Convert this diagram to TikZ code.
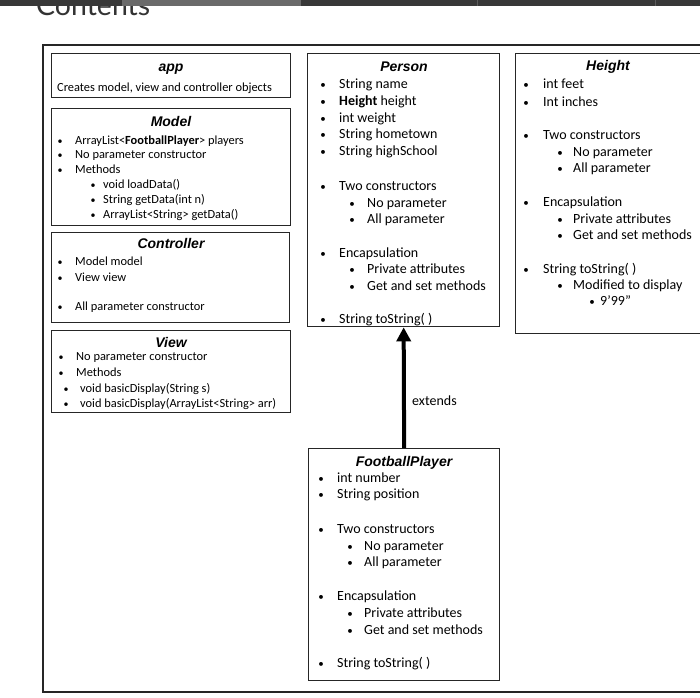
\documentclass[tikz,border=0pt]{standalone}
\usepackage{fontspec}
\setmainfont{Carlito}
\newfontfamily\ttlfont{Liberation Sans}
\newfontfamily\hdfont{Lato}
\usetikzlibrary{arrows.meta}
\definecolor{bardark}{HTML}{383838}
\definecolor{barlight}{HTML}{6A6A6A}
\definecolor{bardiv}{HTML}{5C5C5C}
\definecolor{linec}{HTML}{262626}
\newcommand\li[5]{\node[bul] (#1b) at (#2,#4) {\textbullet}; \node[itm] (#1) at (#3,#4) {#5};}
\begin{document}
\begin{tikzpicture}[x=1pt,y=-1pt,
  box/.style={draw=linec, line width=1.3pt, inner sep=0pt, anchor=north west},
  ttl/.style={font=\ttlfont\bfseries\itshape\fontsize{14}{16}\selectfont, anchor=mid, inner sep=0pt, yshift=-3pt},
  bul/.style={anchor=mid, inner sep=0pt, yshift=-3pt},
  itm/.style={anchor=mid west, inner sep=0pt, yshift=-3pt},
  sm/.style={nodes={font=\fontsize{12.4}{14}\selectfont}, bul/.append style={font=\fontsize{10}{11}\selectfont}},
  lg/.style={nodes={font=\fontsize{14}{16}\selectfont}, bul/.append style={font=\fontsize{11}{12}\selectfont}},
]
\useasboundingbox (0,0) rectangle (700,697);

% header
\node[anchor=base west, inner sep=0pt, font=\hdfont\fontsize{28.5}{32}\selectfont, text=black!80] (contents) at (36,15) {Contents};
\fill[bardark] (0,0) rectangle (700,5.5);
\fill[barlight] (122,0) rectangle (301,5.5);
\draw[bardiv, line width=1pt] (477,0) -- (477,5.5) (655,0) -- (655,5.5);

% boxes
\node[box, line width=1.8pt, minimum width=672pt, minimum height=647pt] (outer) at (42,44) {};
\node[box, minimum width=239pt, minimum height=44pt] (app) at (51,53) {};
\node[box, minimum width=239pt, minimum height=117pt] (model) at (51,108) {};
\node[box, minimum width=238pt, minimum height=90pt] (controller) at (51,232) {};
\node[box, minimum width=239pt, minimum height=82pt] (view) at (51,330) {};
\node[box, minimum width=192pt, minimum height=273pt] (person) at (307,53) {};
\node[box, minimum width=200pt, minimum height=280pt] (height) at (515,53) {};
\node[box, minimum width=191pt, minimum height=232pt] (fp) at (308,448) {};

% titles
\node[ttl] (tapp) at (171,66) {app};
\node[ttl] (tmodel) at (171,121) {Model};
\node[ttl] (tcontroller) at (171,243) {Controller};
\node[ttl] (tview) at (171,342) {View};
\node[ttl] (tperson) at (404,66) {Person};
\node[ttl] (theight) at (608,65) {Height};
\node[ttl] (tfp) at (404,461) {FootballPlayer};

\begin{scope}[sm]
\node[itm] (appbody) at (57,86) {Creates model, view and controller objects};
\li{m1}{60}{75}{139}{ArrayList<\textbf{FootballPlayer}> players}
\li{m2}{60}{75}{153}{No parameter constructor}
\li{m3}{60}{75}{168}{Methods}
\li{m4}{93}{103}{183}{void loadData()}
\li{m5}{93}{103}{198}{String getData(int n)}
\li{m6}{93}{103}{213}{ArrayList<String> getData()}
\li{c1}{60}{75}{260}{Model model}
\li{c2}{60}{75}{276}{View view}
\li{c3}{60}{75}{305}{All parameter constructor}
\li{v1}{61}{76}{355}{No parameter constructor}
\li{v2}{61}{76}{371}{Methods}
\li{v3}{66}{80}{387}{void basicDisplay(String s)}
\li{v4}{66}{80}{402}{void basicDisplay(ArrayList<String> arr)}
\end{scope}

\begin{scope}[lg]
\li{p1}{323}{339}{83}{String name}
\li{p2}{323}{339}{100}{\textbf{Height} height}
\li{p3}{323}{339}{117}{int weight}
\li{p4}{323}{339}{133}{String hometown}
\li{p5}{323}{339}{150}{String highSchool}
\li{p6}{323}{339}{185}{Two constructors}
\li{p7}{352}{367}{202}{No parameter}
\li{p8}{352}{367}{218}{All parameter}
\li{p9}{323}{339}{252}{Encapsulation}
\li{p10}{352}{367}{268}{Private attributes}
\li{p11}{352}{367}{285}{Get and set methods}
\li{p12}{323}{339}{318}{String toString( )}

\li{h1}{526}{543}{83}{int feet}
\li{h2}{526}{543}{101}{Int inches}
\li{h3}{526}{543}{134}{Two constructors}
\li{h4}{560}{573}{151}{No parameter}
\li{h5}{560}{573}{167}{All parameter}
\li{h6}{526}{543}{201}{Encapsulation}
\li{h7}{560}{573}{218}{Private attributes}
\li{h8}{560}{573}{234}{Get and set methods}
\li{h9}{526}{543}{268}{String toString( )}
\li{h10}{560}{573}{284}{Modified to display}
\li{h11}{592}{600}{300}{9’99”}

\li{f1}{321}{337}{477}{int number}
\li{f2}{321}{337}{493}{String position}
\li{f3}{321}{337}{528}{Two constructors}
\li{f4}{350}{364}{545}{No parameter}
\li{f5}{350}{364}{561}{All parameter}
\li{f6}{321}{337}{595}{Encapsulation}
\li{f7}{350}{364}{612}{Private attributes}
\li{f8}{350}{364}{629}{Get and set methods}
\li{f9}{321}{337}{662}{String toString( )}

\node[itm] (ext) at (412,400) {extends};
\end{scope}

% inheritance arrow
\draw[black, line width=4pt, -{Triangle[length=14pt,width=14pt]}] (fp.north) -- (person.south);
\end{tikzpicture}
\end{document}
